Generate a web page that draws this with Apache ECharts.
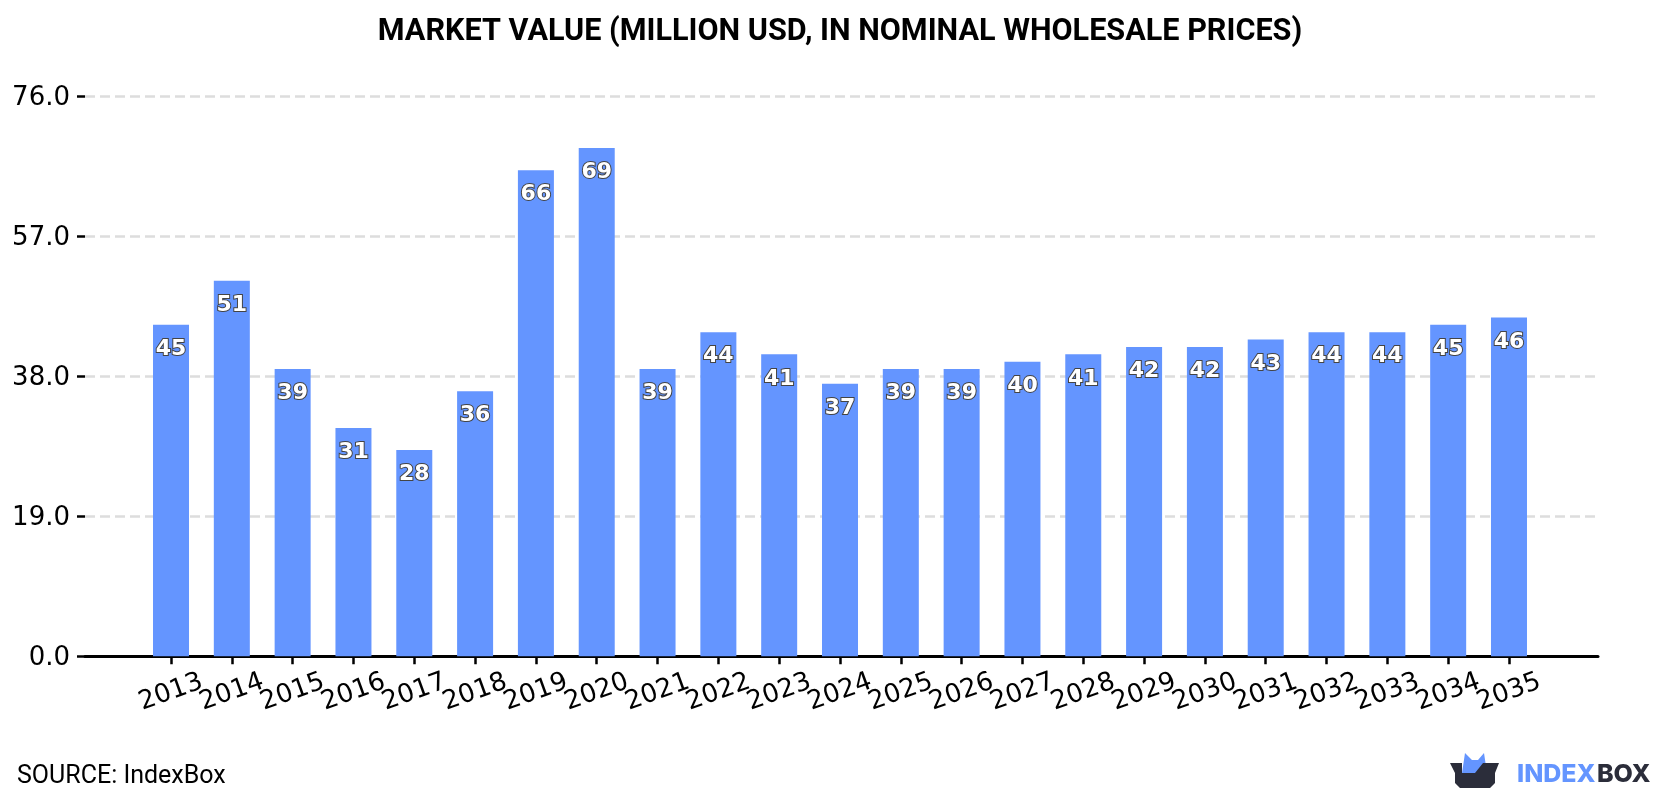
<!DOCTYPE html>
<html>
<head>
<meta charset="utf-8">
<title>Market value</title>
<style>html,body{margin:0;padding:0;background:#fff}#chart{width:1680px;height:800px}</style>
<script src="https://cdn.jsdelivr.net/npm/echarts@6/dist/echarts.min.js"></script>
</head>
<body>
<div id="chart"></div>
<script>
const years = ['2013','2014','2015','2016','2017','2018','2019','2020','2021','2022','2023','2024','2025','2026','2027','2028','2029','2030','2031','2032','2033','2034','2035'];
const marketValue = [45,51,39,31,28,36,66,69,39,44,41,37,39,39,40,41,42,42,43,44,44,45,46];
const yTicks = [0,19,38,57,76];
const titleText = 'MARKET VALUE (MILLION USD, IN NOMINAL WHOLESALE PRICES)';
const sourceText = 'SOURCE: IndexBox';

const chart = echarts.init(document.getElementById('chart'), null, {renderer: 'canvas'});
const BLUE = '#6495ff';
const DARK = '#2b2d3a';
const TOP = 96.5, BOTTOM = 143.7;
const yMin = yTicks[0], yMax = yTicks[yTicks.length - 1];

chart.setOption({
  animation: false,
  backgroundColor: '#fff',
  title: {
    text: titleText, left: 'center', top: 12,
    textStyle: {fontFamily: 'Roboto', fontWeight: 700, fontSize: 30.6, color: '#000'}
  },
  // Grid 0 holds the bars; grid 1 is wider and carries the baseline, y ticks and gridlines.
  grid: [
    {left: 140.6, width: 1398.8, top: TOP, bottom: BOTTOM},
    {left: 85, right: 82, top: TOP, bottom: BOTTOM}
  ],
  xAxis: [
    {
      type: 'category', gridIndex: 0, data: years,
      axisLine: {show: false},
      axisTick: {show: true, alignWithLabel: true, length: 8, lineStyle: {color: '#000', width: 2.5}},
      axisLabel: {
        show: true, interval: 0, rotate: 20, align: 'center', verticalAlign: 'middle',
        margin: 36, fontFamily: 'DejaVu Sans', fontSize: 26, color: '#000'
      }
    },
    {
      type: 'value', gridIndex: 1, min: 0, max: 1,
      splitLine: {show: false}, axisTick: {show: false}, axisLabel: {show: false},
      axisLine: {show: true, onZero: false, lineStyle: {color: '#000', width: 3}}
    }
  ],
  yAxis: [
    {type: 'value', gridIndex: 0, min: yMin, max: yMax, interval: 19, show: false},
    {
      type: 'value', gridIndex: 1, min: yMin, max: yMax, interval: 19,
      axisLine: {show: false},
      axisTick: {show: true, length: 8, lineStyle: {color: '#000', width: 2.5}},
      axisLabel: {
        margin: 15, verticalAlign: 'top', lineHeight: 4,
        fontFamily: 'DejaVu Sans', fontSize: 26, color: '#000',
        formatter: v => v.toFixed(1)
      },
      splitLine: {show: true, lineStyle: {color: '#dddddd', width: 2.5, type: [10, 5]}}
    }
  ],
  series: [{
    type: 'bar',
    xAxisIndex: 0, yAxisIndex: 0,
    barWidth: 36,
    itemStyle: {color: BLUE},
    data: marketValue,
    label: {
      show: true, position: 'insideTop', distance: 13.5,
      fontFamily: 'DejaVu Sans', fontWeight: 700, fontSize: 22,
      color: '#fff', textBorderColor: '#444', textBorderWidth: 2
    }
  }],
  graphic: [
    {type: 'text', left: 17, top: 764, style: {text: sourceText, fontFamily: 'Roboto', fontSize: 25, fill: '#000'}},
    // brand mark: blue flaps behind a dark open box
    {type: 'polygon', shape: {points: [[1462,773],[1465,753],[1472,760],[1478,760],[1484,753],[1487,773]]}, style: {fill: BLUE}},
    {type: 'polygon', shape: {points: [[1450,763],[1462,763],[1462,773],[1475,773],[1483,763],[1499,763],[1495,773],[1495,783],[1490,788],[1460,788],[1455,783],[1455,773]]}, style: {fill: DARK}},
    {type: 'text', left: 1517, top: 762, style: {text: 'INDEX', fontFamily: 'Inter', fontWeight: 800, fontSize: 25, fill: BLUE}},
    {type: 'text', left: 1597, top: 762, style: {text: 'BOX', fontFamily: 'Inter', fontWeight: 800, fontSize: 25, fill: DARK}}
  ]
});
</script>
</body>
</html>
